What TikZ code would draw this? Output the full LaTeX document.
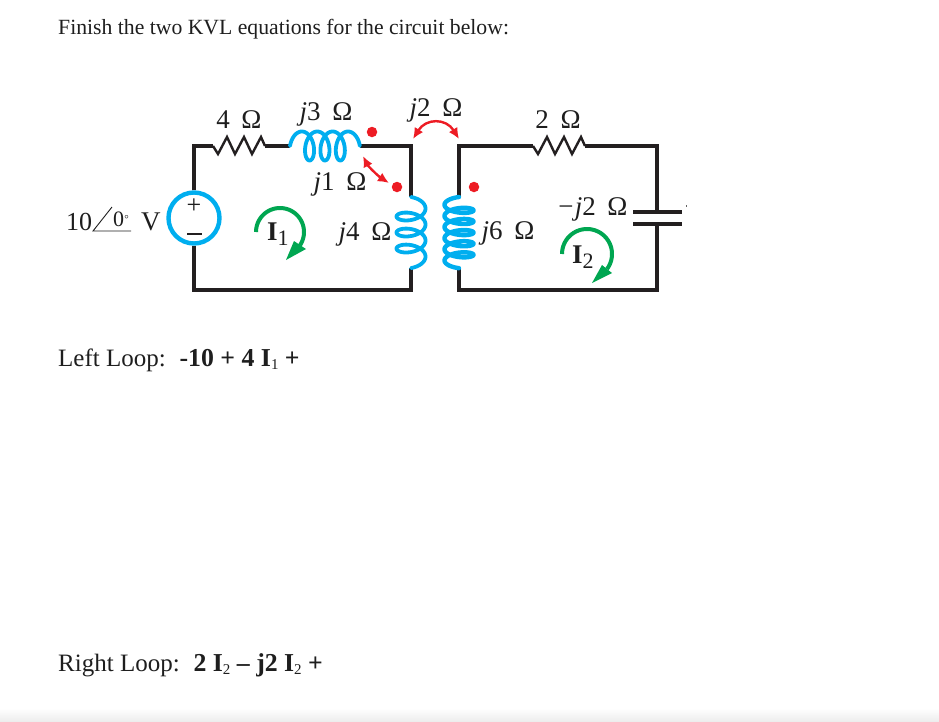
\documentclass[tikz,border=0pt]{standalone}
\usepackage{fontspec}
\setmainfont{Liberation Serif}
\usetikzlibrary{arrows.meta,shadings}
\definecolor{wirec}{HTML}{231F20}
\definecolor{coilc}{HTML}{00AEEF}
\definecolor{redc}{HTML}{ED1C24}
\definecolor{greenc}{HTML}{00A651}
\definecolor{txtc}{HTML}{1E1E1E}
\newcommand{\fs}[1]{\fontsize{#1}{#1}\selectfont}
\newcommand{\om}{\hspace{0.18em} Ω}
\newcommand{\lsub}[1]{\raisebox{-5pt}{\fs{22}\mdseries #1}}
\newcommand{\dsub}[1]{\raisebox{-3pt}{\fs{15}\mdseries #1}}
\tikzset{
  wire/.style={draw=wirec,line width=3.4pt,line cap=butt,line join=miter},
  thinres/.style={draw=wirec,line width=2.4pt,line join=miter},
  plate/.style={draw=wirec,line width=4pt},
  coil/.style={draw=coilc,line width=3.8pt,line cap=round,line join=round},
  denscoil/.style={coil,line width=4.4pt},
  redarrow/.style={draw=redc,line width=2.4pt,{Latex[length=11pt,width=10pt]}-{Latex[length=11pt,width=10pt]}},
  dot/.style={circle,fill=redc,draw=none,inner sep=0,minimum size=10.5pt},
  greenarc/.style={draw=greenc,line width=4pt},
  lab/.style={text=txtc,inner sep=0,font=\fs{27}},
  doc/.style={text=txtc,inner sep=0,anchor=base west,font=\fs{21.7}},
  doc2/.style={text=txtc,inner sep=0,anchor=base west,font=\fs{25}},
  res/.pic={\draw[thinres] (0,0)--(5,8)--(14,-9)--(22,8)--(31,-9)--(39,8)--(48,-9)--(52,0);}
}
\begin{document}
\begin{tikzpicture}[x=1pt,y=-1pt]
\useasboundingbox (0,0) rectangle (939,721);
\shade[top color=white,bottom color=black!7] (0,708) rectangle (939,721);
% corners and terminals
\coordinate (tl) at (194,146); \coordinate (bl) at (194,290);
\coordinate (r1a) at (213,146); \coordinate (r1b) at (265,146);
\coordinate (l1a) at (290,146); \coordinate (l1b) at (360,146);
\coordinate (t1) at (411,146); \coordinate (l2a) at (411,197);
\coordinate (l2b) at (411,268); \coordinate (b1) at (411,290);
\coordinate (t2) at (459,146); \coordinate (l3a) at (459,197);
\coordinate (l3b) at (459,268); \coordinate (b2) at (459,290);
\coordinate (r2a) at (533,146); \coordinate (r2b) at (585,146);
\coordinate (tr) at (657,146); \coordinate (br) at (657,290);
\coordinate (ca) at (657,212); \coordinate (cb) at (657,224);
\coordinate (capla) at (633,212); \coordinate (caplb) at (682,212);
\coordinate (capra) at (633,224); \coordinate (caprb) at (682,224);
% source
\node[circle,draw=coilc,line width=4.4pt,inner sep=0,minimum size=51pt] (src) at (194,218) {};
\draw[wire] (src.north)--(tl)--(r1a);
\draw[wire] (r1b)--(l1a);
\draw[wire] (l1b)--(t1)--(l2a);
\draw[wire] (l2b)--(b1)--(bl)--(src.south);
\draw[wire] (l3a)--(t2)--(r2a);
\draw[wire] (r2b)--(tr)--(ca);
\draw[wire] (cb)--(br)--(b2)--(l3b);
\draw[plate] (capla)--(caplb);
\draw[plate] (capra)--(caprb);
\fill[txtc!70] (685.5,205) rectangle (687,207);
\pic at (r1a) {res};
\pic at (r2a) {res};
% coils
\draw[coil] plot[domain=0:21.99,samples=200,smooth,variable=\t]
  ({290+2.45*\t+8*(1-cos(\t r))},{146-14.5*sin(\t r)});
\draw[coil] plot[domain=0:21.99,samples=200,smooth,variable=\t]
  ({411+14.5*sin(\t r)},{197+2.55*\t+7.5*(1-cos(\t r))});
\draw[denscoil] plot[domain=0:34.56,samples=300,smooth,variable=\t]
  ({459-14.5*sin(\t r)},{197+1.77*\t+5*(1-cos(\t r))});
% mutual coupling
\coordinate (m1a) at (413,139); \coordinate (m1b) at (459,139);
\coordinate (m2a) at (363,156); \coordinate (m2b) at (389,183);
\draw[redarrow] (m1a) .. controls (426,118) and (446,118) .. (m1b);
\draw[redarrow] (m2a) .. controls (368,166) and (378,176) .. (m2b);
\node[dot] (d1) at (372,132) {};
\node[dot] (d2) at (397,187) {};
\node[dot] (d3) at (474,187) {};
% loop currents
\draw[greenarc] plot[domain=180:-34,samples=50,smooth,variable=\a] ({280+24*cos(\a)},{232-24*sin(\a)});
\fill[greenc] (286,260)--(294,241)--(306,249)--cycle;
\draw[greenarc] plot[domain=180:-37,samples=50,smooth,variable=\a] ({587+25*cos(\a)},{254-25*sin(\a)});
\fill[greenc] (592,283)--(602,265)--(612,273)--cycle;
% source marks
\node[lab,font=\fs{26}] (plus) at (194,206) {+};
\coordinate (mna) at (187,234); \coordinate (mnb) at (202,234);
\draw[draw=wirec,line width=2pt] (mna)--(mnb);
% labels
\node[lab] (n4) at (239,120) {4\om};
\node[lab] (nj3) at (326,114) {\textit{j}3\om};
\node[lab] (nj2) at (436,110) {\textit{j}2\om};
\node[lab] (n2) at (558,120) {2\om};
\node[lab] (nj1) at (340,184) {\textit{j}1\om};
\node[lab] (nj4) at (365,234) {\textit{j}4\om};
\node[lab] (nj6) at (508,233) {\textit{j}6\om};
\node[lab] (nmj2) at (592,209) {\textit{−j}2\om};
\node[lab,anchor=base west,font=\fs{27}\bfseries] (i1) at (267,240) {I\lsub{1}};
\node[lab,anchor=base west,font=\fs{27}\bfseries] (i2) at (572,263) {I\lsub{2}};
\node[lab,anchor=base west,font=\fs{26}] (ten) at (66,230) {10};
\node[lab,anchor=base west,font=\fs{22}] (zero) at (113,226) {0};
\node[lab,anchor=base west,font=\fs{14}] (deg) at (124,221) {◦};
\node[lab,anchor=base west,font=\fs{27}] (volt) at (141,230) {V};
\coordinate (ang1) at (112,207); \coordinate (ang2) at (93,231); \coordinate (ang3) at (131,231);
\draw[draw=txtc,line width=0.9pt] (ang1)--(ang2)--(ang3);
% document text
\node[doc] (title) at (58,34) {Finish the two KVL equations for the circuit below:};
\node[doc2] (left) at (58,366) {Left Loop:\hspace{0.22em} {\fs{25.8}\textbf{-10 + 4 I\dsub{1} +}}};
\node[doc2] (right) at (58,671) {Right Loop:\hspace{0.22em} {\fs{25.8}\textbf{2 I\dsub{2} – j2 I\dsub{2} +}}};
\end{tikzpicture}
\end{document}
